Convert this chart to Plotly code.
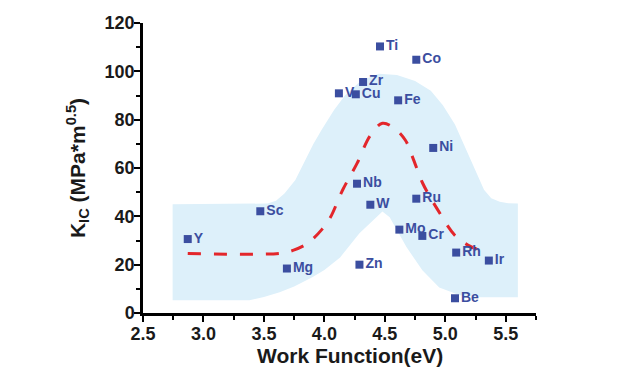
import plotly.graph_objects as go

# Element data: work function (eV) vs K_IC (MPa*m^0.5)
elements = ["Y", "Sc", "Mg", "Zn", "W", "Nb", "Ru", "Mo", "Cr", "Rh", "Ir", "Be",
            "Ti", "Co", "Zr", "V", "Cu", "Fe", "Ni"]
work_function = [2.87, 3.47, 3.69, 4.29, 4.38, 4.27, 4.76, 4.62, 4.81, 5.09, 5.36, 5.08,
                 4.46, 4.76, 4.32, 4.12, 4.26, 4.61, 4.90]
k_ic = [30.6, 42.1, 18.4, 20.0, 44.8, 53.5, 47.3, 34.5, 31.9, 25.0, 21.7, 6.1,
        110.3, 104.8, 95.6, 90.9, 90.5, 88.0, 68.3]

# Trend (red dashed) line
trend_x = [2.87, 3.63, 3.74, 3.86, 3.98, 4.05, 4.15, 4.27, 4.38, 4.48, 4.58, 4.67,
           4.73, 4.81, 4.93, 5.08, 5.19, 5.29]
trend_y = [24.6, 24.7, 25.9, 28.8, 34.6, 39.6, 50.8, 61.9, 73.5, 78.5, 76.4, 71.5,
           64.4, 54.0, 43.3, 32.1, 28.0, 25.9]

# Shaded band: upper boundary (left to right), lower boundary (right to left)
band_upper_x = [2.745, 3.45, 3.53, 3.6, 3.67, 3.76, 3.84, 3.91, 3.98, 4.08, 4.17, 4.3,
                4.45, 4.6, 4.75, 4.88, 4.98, 5.08, 5.16, 5.24, 5.32, 5.38, 5.45, 5.52, 5.6]
band_upper_y = [45, 45, 45.3, 46.5, 49.5, 55, 63, 70, 76, 84, 90, 96,
                99, 98.5, 96, 92, 86, 78, 69, 60, 51, 47.5, 46, 45.4, 45.3]
band_lower_x = [5.6, 5.29, 5.12, 4.95, 4.81, 4.68, 4.54, 4.48, 4.43, 4.29, 4.13,
                4.0, 3.9, 3.75, 3.63, 3.5, 3.38, 2.745]
band_lower_y = [6.5, 6.5, 7.3, 10.6, 17.7, 27.2, 39.6, 42.0, 39.6, 33.0, 23.0,
                17.8, 14.8, 11.0, 8.6, 6.6, 5.3, 5.3]

x_ticks = [2.5, 3.0, 3.5, 4.0, 4.5, 5.0, 5.5]
y_ticks = [0, 20, 40, 60, 80, 100, 120]

BLUE = "#3b4ea0"
DARK = "#1a1a1a"
FONT = "Liberation Sans, Arial, sans-serif"

fig = go.Figure()

fig.add_trace(go.Scatter(
    x=band_upper_x + band_lower_x,
    y=band_upper_y + band_lower_y,
    fill="toself", fillcolor="#ddf0fa", mode="lines",
    line=dict(width=0, color="#ddf0fa"),
    hoverinfo="skip", showlegend=False,
))

fig.add_trace(go.Scatter(
    x=trend_x, y=trend_y, mode="lines",
    line=dict(color="#e3262b", width=3, dash="13px,13px", shape="spline"),
    showlegend=False,
))

fig.add_trace(go.Scatter(
    x=work_function, y=k_ic, mode="markers+text",
    marker=dict(symbol="square", size=8, color=BLUE),
    text=elements, textposition="middle right",
    textfont=dict(family=FONT, size=14, color=BLUE, weight="bold"),
    showlegend=False, cliponaxis=False,
))

axis_common = dict(
    showline=True, linecolor="black", linewidth=2.5, mirror=False,
    ticks="outside", ticklen=6, tickwidth=2, tickcolor="black",
    showgrid=False, zeroline=False, automargin=False,
    tickfont=dict(family=FONT, size=18, color=DARK, weight="bold"),
)

fig.update_xaxes(
    range=[2.5, 5.75], tickvals=x_ticks, ticktext=[f"{v:.1f}" for v in x_ticks],
    minor=dict(dtick=0.25, tick0=2.5, ticks="outside", ticklen=4, tickwidth=2, tickcolor="black"),
    ticklabelstandoff=-3,
    **axis_common,
)
fig.update_yaxes(
    range=[0, 120], tickvals=y_ticks,
    minor=dict(dtick=10, tick0=0, ticks="outside", ticklen=4, tickwidth=2, tickcolor="black"),
    ticklabelstandoff=-4,
    title=dict(text="K<sub>IC</sub> (MPa*m<sup>0.5</sup>)", standoff=14,
               font=dict(family=FONT, size=21, color=DARK, weight="bold")),
    **axis_common,
)

# page body has an 8px margin; compensate so the plot area sits at 143..536 x 23..313
fig.update_layout(
    width=630, height=383,
    margin=dict(l=135, r=102, t=15, b=78),
    plot_bgcolor="white", paper_bgcolor="white",
    annotations=[dict(
        text="Work Function(eV)", xref="paper", yref="paper",
        x=0.527, y=-0.146, xanchor="center", yanchor="middle", showarrow=False,
        font=dict(family=FONT, size=21, color=DARK, weight="bold"),
    )],
)

fig.write_html("out.html")
